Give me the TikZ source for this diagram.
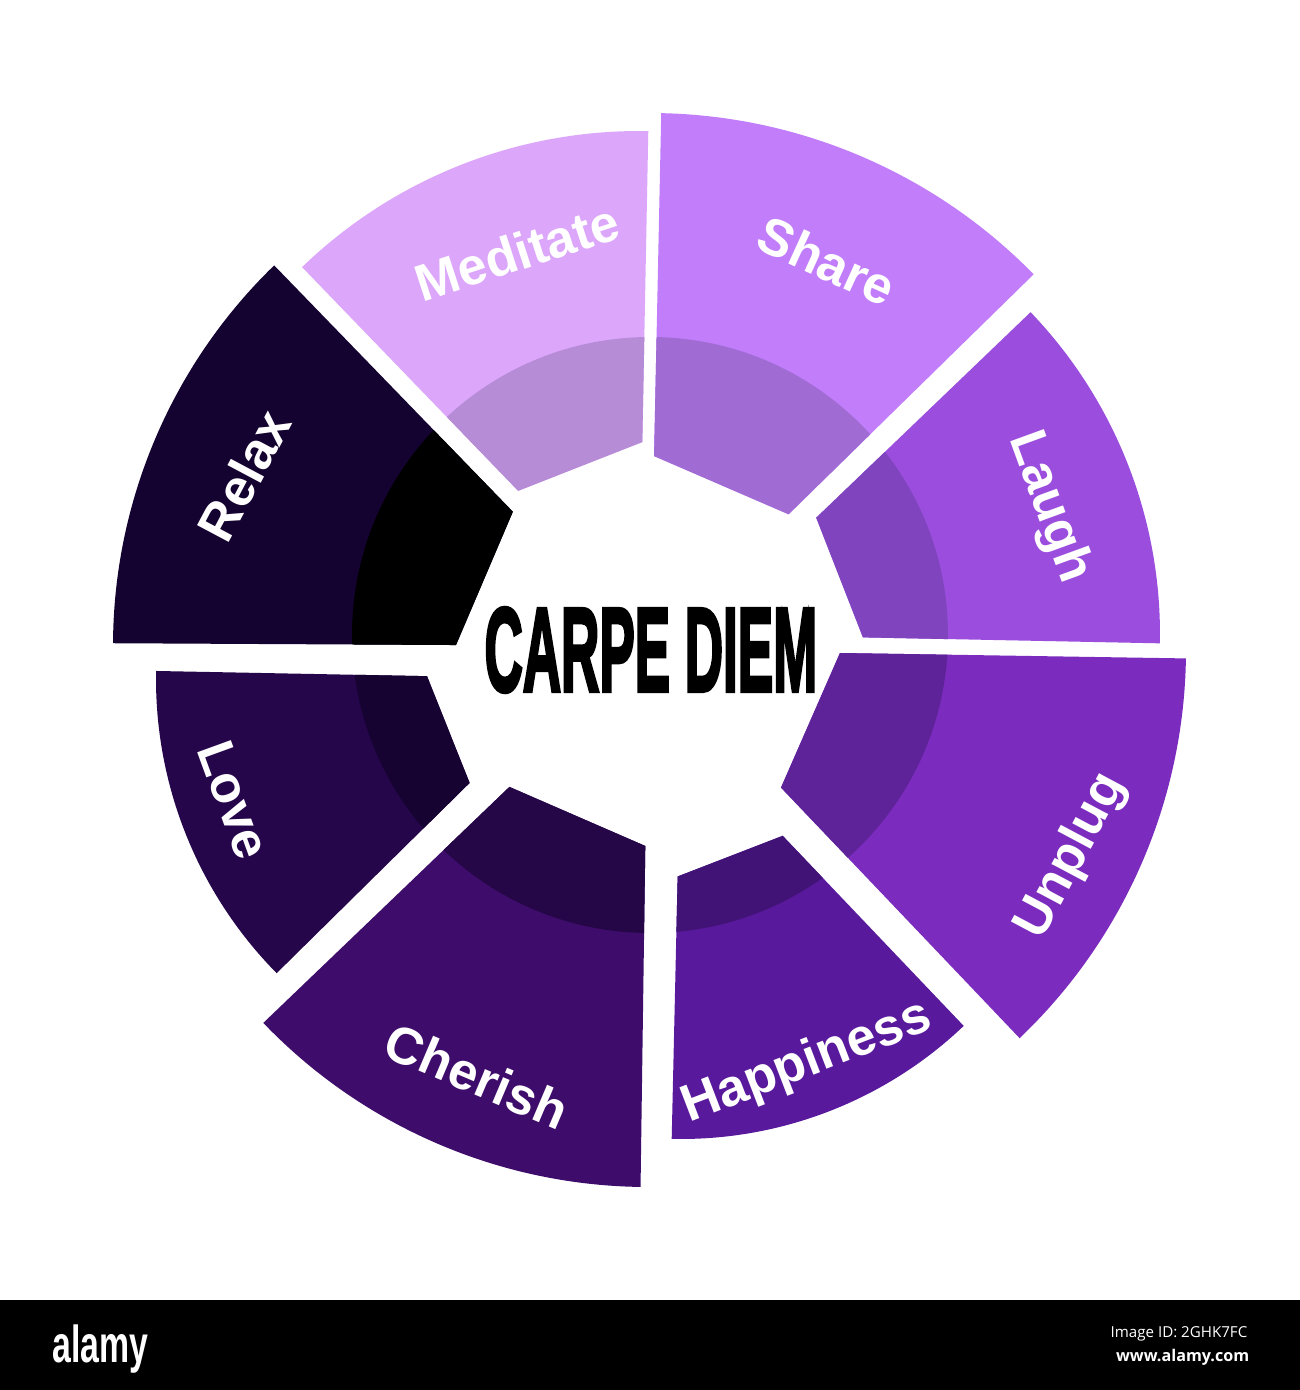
\documentclass[tikz,border=0pt]{standalone}
\usepackage{fontspec}
\setmainfont{Liberation Sans}
\newfontfamily\idfont{Open Sans}
\newfontfamily\hubfont[BoldFeatures={FakeBold=3.5}]{Liberation Sans}
\usetikzlibrary{calc}
\definecolor{meditateC}{HTML}{DCA6FA}
\definecolor{meditateD}{HTML}{B68CD6}
\definecolor{shareC}{HTML}{C17DFA}
\definecolor{shareD}{HTML}{A16BD4}
\definecolor{laughC}{HTML}{9B4EDE}
\definecolor{laughD}{HTML}{8045BE}
\definecolor{unplugC}{HTML}{7B2BBE}
\definecolor{unplugD}{HTML}{5E2399}
\definecolor{happyC}{HTML}{59199C}
\definecolor{happyD}{HTML}{421377}
\definecolor{cherishC}{HTML}{3E0C6A}
\definecolor{cherishD}{HTML}{250748}
\definecolor{loveC}{HTML}{25064B}
\definecolor{loveD}{HTML}{160332}
\definecolor{relaxC}{HTML}{140330}
\definecolor{relaxD}{HTML}{000000}
\tikzset{
  wedgetext/.style={text=white,inner sep=0pt,font=\fontsize{14.8}{16}\selectfont\bfseries},
  hubtext/.style={text=black,inner sep=0pt,xscale=.445,font=\fontsize{33.9}{36}\selectfont\hubfont\bfseries},
  bannerlogo/.style={text=white,inner sep=0pt,xscale=.65,font=\fontsize{14.8}{16}\selectfont\bfseries},
  bannerid/.style={text=white,inner sep=0pt,font=\fontsize{4.3}{5}\selectfont\idfont},
  bannerurl/.style={text=white,inner sep=0pt,font=\fontsize{4.6}{5}\selectfont\idfont\bfseries}}

\begin{document}
\begin{tikzpicture}
\useasboundingbox (-6.5,-7.4) rectangle (6.5,6.5);
\fill[white] (-6.5,-7.4) rectangle (6.5,6.5);
\coordinate (ringc) at (0,.15);
\foreach \lite/\deep/\ax/\ay/\a/\b/\R/\r in {
  shareC/shareD/0/0/44.4/88.8/5.37/1.94,
  meditateC/meditateD/-.11/.34/88.9/134/4.85/1.74,
  relaxC/relaxD/-.07/.04/134.1/179.7/5.30/1.87,
  loveC/loveD/-.75/-.29/178.9/224.6/4.19/1.48,
  cherishC/cherishD/-.02/-.04/223.8/269.2/5.33/1.92,
  happyC/happyD/.31/-.79/268.7/313.6/4.10/1.475,
  unplugC/unplugD/0/0/313.6/359.1/5.36/1.90,
  laughC/laughD/.45/.16/-1.15/43.8/4.65/1.68}{
  \begin{scope}
    \clip[shift={(\ax,\ay)}] (\a:\r) -- (\a:\R) arc[start angle=\a,end angle=\b,radius=\R] -- (\b:\r) -- cycle;
    \fill[\lite] (-6.5,-6.5) rectangle (6.5,6.5);
    \fill[\deep] (ringc) circle (2.98);
  \end{scope}}
\node[wedgetext,rotate=18] (meditate) at (-1.33,3.98) {Meditate};
\node[wedgetext,rotate=-24.5] (share) at (1.77,3.89) {Share};
\node[wedgetext,rotate=-70] (laugh) at (3.99,1.43) {Laugh};
\node[wedgetext,rotate=62] (unplug) at (4.22,-2.06) {Unplug};
\node[wedgetext,rotate=21] (happiness) at (1.57,-4.13) {Happiness};
\node[wedgetext,rotate=-23] (cherish) at (-1.73,-4.26) {Cherish};
\node[wedgetext,rotate=-70] (love) at (-4.16,-1.50) {Love};
\node[wedgetext,rotate=62] (relax) at (-4.06,1.75) {Relax};
\node[hubtext] (carpe) at (.01,0) {CARPE DIEM};
\fill[black] (-6.5,-6.5) rectangle (6.5,-7.4);
\node[bannerlogo,anchor=base west] (alamy) at (-5.98,-7.12) {alamy};
\node[bannerid,anchor=base east] (imageid) at (5.98,-6.87) {Image ID: 2GHK7FC};
\node[bannerurl,anchor=base east] (url) at (6.0,-7.11) {www.alamy.com};
\end{tikzpicture}
\end{document}
